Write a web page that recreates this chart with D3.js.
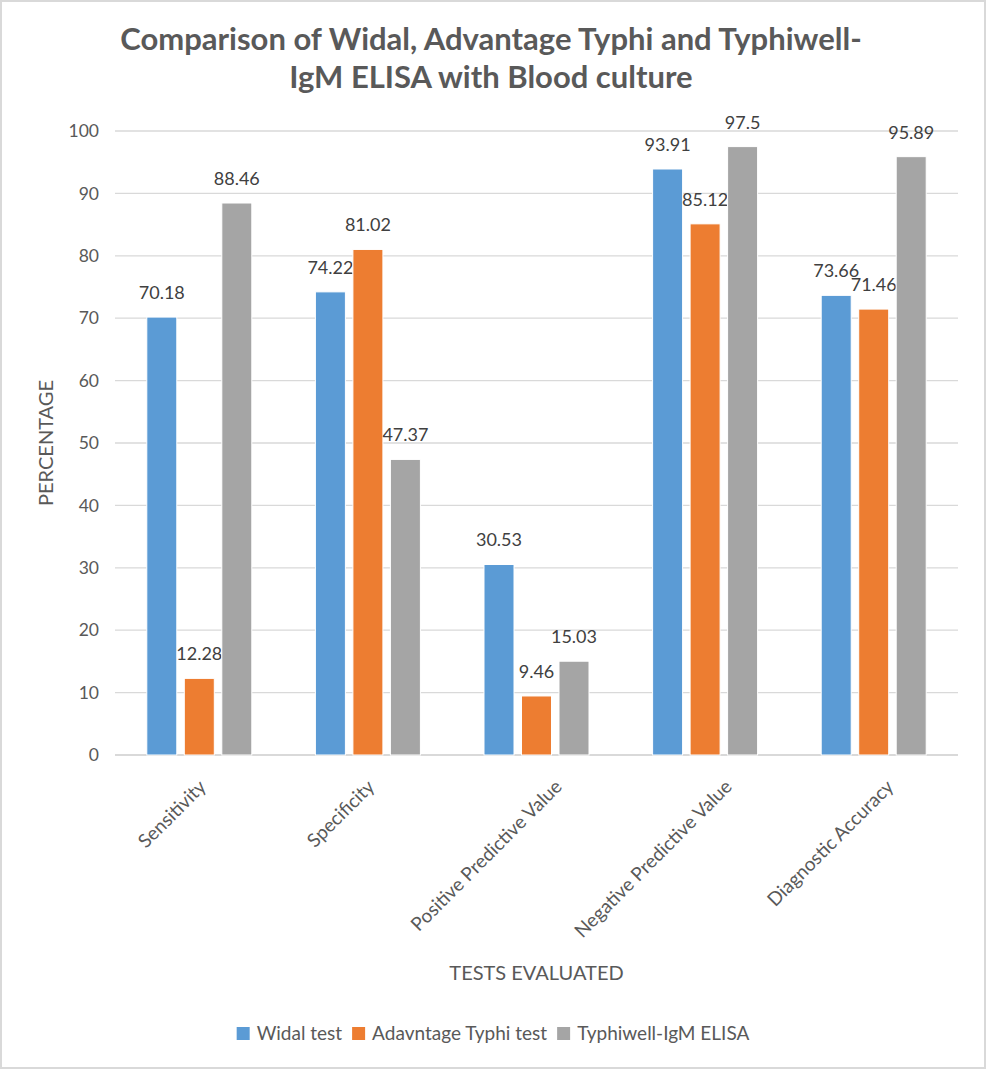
<!DOCTYPE html>
<html>
<head>
<meta charset="utf-8">
<script src="https://cdn.jsdelivr.net/npm/d3@7"></script>
<style>
  html, body { margin: 0; padding: 0; background: #fff; }
  svg { display: block; font-family: Lato, "Open Sans", sans-serif; }
</style>
</head>
<body>
<div id="chart"></div>
<script>
const categories = ["Sensitivity", "Specificity", "Positive Predictive Value", "Negative Predictive Value", "Diagnostic Accuracy"];
const seriesNames = ["Widal test", "Adavntage Typhi test", "Typhiwell-IgM ELISA"];
const widal = [70.18, 74.22, 30.53, 93.91, 73.66];
const advantage = [12.28, 81.02, 9.46, 85.12, 71.46];
const typhiwell = [88.46, 47.37, 15.03, 97.5, 95.89];
const yTicks = [0, 10, 20, 30, 40, 50, 60, 70, 80, 90, 100];
const colors = ["#5b9bd5", "#ed7d31", "#a5a5a5"];

const series = [widal, advantage, typhiwell];

const width = 986;
const height = 1069;
const margin = {top: 131, right: 28, bottom: 314, left: 115};

const svg = d3.select("#chart").append("svg")
  .attr("width", width)
  .attr("height", height)
  .attr("viewBox", [0, 0, width, height]);

// outer frame
svg.append("rect")
  .attr("x", 1).attr("y", 1)
  .attr("width", width - 2).attr("height", height - 2)
  .attr("fill", "#fff")
  .attr("stroke", "#d9d9d9")
  .attr("stroke-width", 2);

const x = d3.scaleBand()
  .domain(categories)
  .range([margin.left, width - margin.right]);

const x1 = d3.scaleBand()
  .domain(d3.range(series.length))
  .range([0, 105])
  .paddingInner(0.2);

const y = d3.scaleLinear()
  .domain([0, 100])
  .range([height - margin.bottom, margin.top]);

// gridlines
svg.append("g")
  .selectAll("line")
  .data(yTicks)
  .join("line")
  .attr("x1", margin.left)
  .attr("x2", width - margin.right)
  .attr("y1", d => y(d))
  .attr("y2", d => y(d))
  .attr("stroke", "#d9d9d9")
  .attr("stroke-width", d => d === 0 ? 2 : 1.3);

// y axis labels
const yAxis = svg.append("g")
  .attr("transform", `translate(${margin.left - 16},0)`)
  .call(d3.axisLeft(y).tickValues(yTicks).tickSize(0).tickPadding(0));
yAxis.select(".domain").remove();
yAxis.selectAll("text")
  .attr("fill", "#595959")
  .attr("font-size", 17.5)
  .attr("font-family", "Lato, sans-serif");

// bars
const groupOffset = (x.bandwidth() - x1.range()[1]) / 2;
const groups = svg.append("g")
  .selectAll("g")
  .data(series)
  .join("g")
  .attr("fill", (d, i) => colors[i]);

groups.selectAll("rect")
  .data((d, i) => d.map((v, j) => ({v, i, j})))
  .join("rect")
  .attr("x", d => x(categories[d.j]) + groupOffset + x1(d.i))
  .attr("width", x1.bandwidth())
  .attr("y", d => y(d.v))
  .attr("height", d => y(0) - y(d.v))
  .attr("stroke", "#fff")
  .attr("stroke-width", 1);

// data labels
groups.selectAll("text")
  .data((d, i) => d.map((v, j) => ({v, i, j})))
  .join("text")
  .attr("x", d => x(categories[d.j]) + groupOffset + x1(d.i) + x1.bandwidth() / 2)
  .attr("y", d => y(d.v) - 18)
  .attr("text-anchor", "middle")
  .attr("fill", "#404040")
  .attr("font-size", 18)
  .text(d => d.v);

// x axis labels (rotated, end anchored near the category centre)
svg.append("g")
  .selectAll("text")
  .data(categories)
  .join("text")
  .attr("text-anchor", "end")
  .attr("fill", "#595959")
  .attr("font-size", 19)
  .text(d => d)
  .attr("transform", function(d) {
    const len = this.getComputedTextLength();
    return `translate(${x(d) + x.bandwidth() / 2 - 6 + 0.16 * len},${y(0) + 33}) rotate(-45)`;
  });

// axis titles
svg.append("text")
  .attr("x", (margin.left + width - margin.right) / 2)
  .attr("y", 980)
  .attr("text-anchor", "middle")
  .attr("fill", "#595959")
  .attr("font-size", 20)
  .text("TESTS EVALUATED");

svg.append("text")
  .attr("transform", `translate(53,${(y(0) + y(100)) / 2}) rotate(-90)`)
  .attr("text-anchor", "middle")
  .attr("fill", "#595959")
  .attr("font-size", 20)
  .text("PERCENTAGE");

// title
const title = svg.append("text")
  .attr("text-anchor", "middle")
  .attr("fill", "#595959")
  .attr("font-size", 31)
  .attr("font-weight", "bold");
title.append("tspan").attr("x", width / 2 - 2).attr("y", 50).text("Comparison of Widal, Advantage Typhi and Typhiwell-");
title.append("tspan").attr("x", width / 2 - 2).attr("y", 88).text("IgM ELISA with Blood culture");

// legend
const legend = svg.append("g");
const items = legend.selectAll("g")
  .data(seriesNames)
  .join("g");
items.append("rect")
  .attr("width", 13).attr("height", 13)
  .attr("y", -13)
  .attr("fill", (d, i) => colors[i]);
items.append("text")
  .attr("x", 20)
  .attr("fill", "#595959")
  .attr("font-size", 19)
  .text(d => d);

let lx = 0;
items.each(function() {
  const w = this.querySelector("text").getComputedTextLength();
  d3.select(this).attr("transform", `translate(${lx},0)`);
  lx += 20 + w + 10;
});
lx -= 10;
legend.attr("transform", `translate(${(width - lx) / 2},1040)`);
</script>
</body>
</html>
